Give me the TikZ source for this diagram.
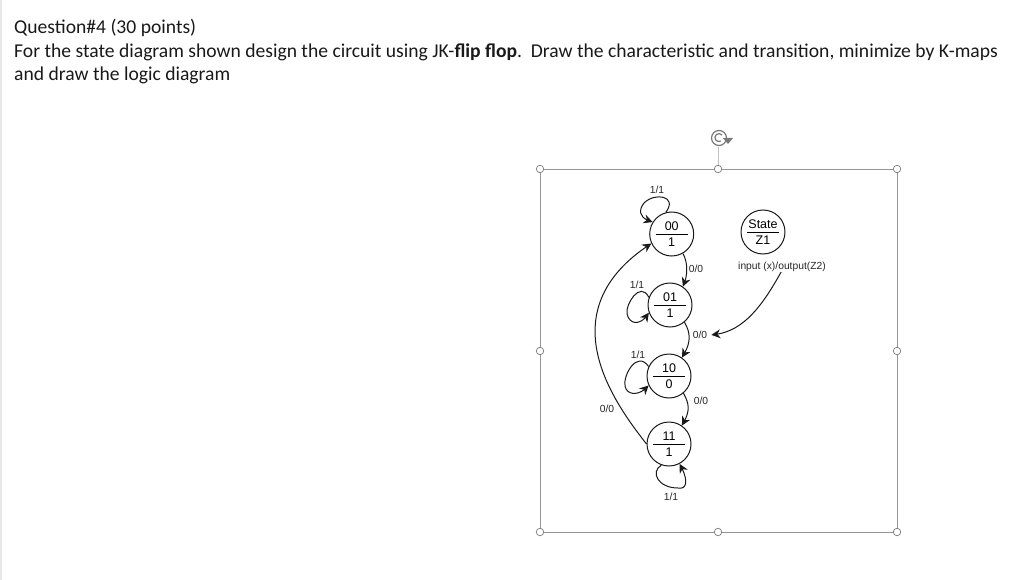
\documentclass[tikz,border=0pt]{standalone}
\usepackage{fontspec}
\setmainfont{Carlito}
\newfontfamily\diagfont{Liberation Sans}
\usetikzlibrary{arrows.meta,bending}
\definecolor{framegray}{RGB}{150,150,150}
\definecolor{handlegray}{RGB}{120,120,120}
\definecolor{stripgray}{RGB}{232,232,232}
\tikzset{
  statenode/.style={draw=black!90,circle,line width=1pt,inner sep=0pt,minimum size=44pt,
    font=\diagfont\fontsize{12.5}{13}\selectfont,align=center},
  edgelabel/.style={inner sep=0pt,text=black!85,font=\diagfont\fontsize{10.3}{12}\selectfont},
  questline/.style={anchor=base west,inner sep=0pt,text=black!90,font=\fontsize{19.6}{22}\selectfont},
  wire/.style={line width=1pt,draw=black!90,-{Stealth[length=9pt,width=9pt]}},
  handle/.style={circle,draw=handlegray,fill=white,line width=0.7pt,inner sep=0pt,minimum size=7.5pt}
}
\newcommand{\statetext}[2]{#1\\[-5pt]\rule[3pt]{32pt}{0.8pt}\\[-4.5pt]#2}
\begin{document}
\begin{tikzpicture}[x=1pt,y=-1pt]
  \useasboundingbox (0,0) rectangle (1024,580);
  \fill[stripgray] (0,0) rectangle (2,580);
  % question text
  \node[questline] (quest1) at (14,34) {Question\#4 (30 points)};
  \node[questline] (quest2) at (14,58) {For the state diagram shown design the circuit using JK-\textbf{flip flop}.\ \ Draw the characteristic and transition, minimize by K-maps};
  \node[questline] (quest3) at (14,81) {and draw the logic diagram};
  % selection frame
  \draw[framegray,line width=0.7pt] (540,169) rectangle (897,532);
  \draw[framegray!60,line width=0.9pt] (718,147) -- (718,169);
  \node[handle] (h1) at (540,169) {};
  \node[handle] (h2) at (718,169) {};
  \node[handle] (h3) at (897,169) {};
  \node[handle] (h4) at (540,351) {};
  \node[handle] (h5) at (897,351) {};
  \node[handle] (h6) at (540,532) {};
  \node[handle] (h7) at (718,532) {};
  \node[handle] (h8) at (897,532) {};
  \draw[handlegray,line width=1.2pt] (719,138) circle [radius=7.5];
  \draw[handlegray,line width=1.2pt] (722,135) arc (-40:-300:4);
  \fill[handlegray] (723,138) -- (733,138) -- (728,144) -- cycle;
  % states
  \node[statenode] (s00) at (671.7,234) {\statetext{00}{1}};
  \node[statenode] (s01) at (670,305) {\statetext{01}{1}};
  \node[statenode] (s10) at (669,376) {\statetext{10}{0}};
  \node[statenode] (s11) at (669,444) {\statetext{11}{1}};
  \node[statenode] (legend) at (763,232) {\statetext{State}{Z1}};
  % labels
  \node[edgelabel] (l00) at (657,190) {1/1};
  \node[edgelabel] (l01) at (637,285) {1/1};
  \node[edgelabel] (l10) at (638,355) {1/1};
  \node[edgelabel] (l11) at (671,497) {1/1};
  \node[edgelabel] (t1) at (696,269) {0/0};
  \node[edgelabel] (t2) at (700,335) {0/0};
  \node[edgelabel] (t3) at (701,401) {0/0};
  \node[edgelabel] (t4) at (607,409) {0/0};
  \node[edgelabel] (linput) at (782,267) {input (x)/output(Z2)};
  % self loops
  \draw[wire] (s00.105) .. controls (678,196) and (655,192) .. (644,203) .. controls (637,212) and (641,219) .. (s00.148);
  \draw[wire] (s01.160) .. controls (640,280) and (625,305) .. (627,314) .. controls (630,326) and (642,325) .. (s01.200);
  \draw[wire] (s10.155) .. controls (637,350) and (623,375) .. (625,386) .. controls (627,396) and (640,396) .. (s10.205);
  \draw[wire] (s11.250) .. controls (650,472) and (658,488) .. (678,488) .. controls (688,490) and (688,478) .. (s11.298);
  % transitions
  \draw[wire] (s00.-60) .. controls (689,265) and (687,278) .. (s01.55);
  \draw[wire] (s01.-50) .. controls (692,335) and (690,345) .. (s10.55);
  \draw[wire] (s10.-50) .. controls (690,405) and (690,412) .. (s11.55);
  \draw[wire] (s11.180) .. controls (612,400) and (548,310) .. (s00.205);
  \draw[wire,shorten >=4pt] (linput.-100) .. controls (760,310) and (740,335) .. (t2.east);
\end{tikzpicture}
\end{document}
